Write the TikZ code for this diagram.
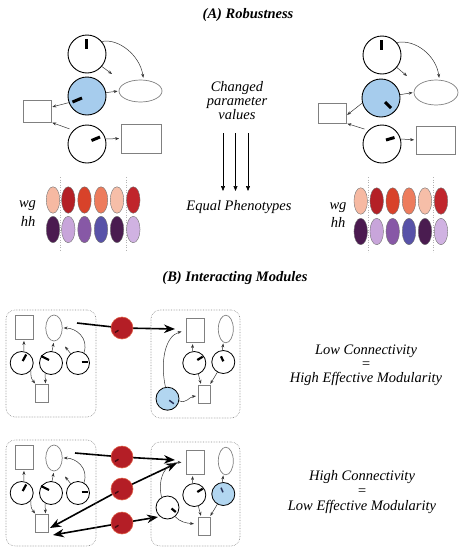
\documentclass[tikz,border=0pt]{standalone}
\usepackage{fontspec}
\setmainfont{Liberation Serif}
\usetikzlibrary{shapes.geometric,arrows.meta,calc,backgrounds}
\definecolor{blueA}{RGB}{166,204,237}
\definecolor{blueB}{RGB}{178,214,240}
\definecolor{navy}{RGB}{40,50,90}
\definecolor{redN}{RGB}{180,30,38}
\definecolor{redR}{RGB}{222,95,70}
\definecolor{redT}{RGB}{70,10,15}
\definecolor{wA}{RGB}{246,185,162}
\definecolor{wB}{RGB}{180,32,38}
\definecolor{wC}{RGB}{216,66,42}
\definecolor{wD}{RGB}{237,124,93}
\definecolor{wE}{RGB}{246,190,168}
\definecolor{wF}{RGB}{192,37,44}
\definecolor{hA}{RGB}{75,26,80}
\definecolor{hB}{RGB}{200,165,218}
\definecolor{hC}{RGB}{135,88,166}
\definecolor{hD}{RGB}{88,82,168}
\definecolor{hE}{RGB}{74,28,80}
\definecolor{hF}{RGB}{208,178,226}
\begin{document}
\begin{tikzpicture}[x=1pt,y=-1pt,
  geneA/.style={circle,draw=black,line width=0.9pt,minimum size=38pt,inner sep=0pt},
  geneB/.style={circle,draw=black,line width=0.8pt,minimum size=23pt,inner sep=0pt},
  prod/.style={rectangle,draw=black!50,line width=0.7pt,inner sep=0pt},
  ellp/.style={ellipse,draw=black!50,line width=0.7pt,inner sep=0pt},
  barA/.style={line width=3pt},
  barB/.style={line width=2.2pt},
  sarr/.style={draw=black!80,line width=0.5pt,-{Stealth[length=4pt,width=3pt]}},
  varr/.style={line width=0.6pt,-{Triangle[length=5pt,width=4pt]}},
  bigarr/.style={line width=1.6pt,-{Stealth[length=11pt,width=8.5pt]}},
  bigline/.style={line width=1.6pt},
  modbox/.style={rectangle,draw=black!45,densely dotted,line width=0.6pt,rounded corners=9pt,inner sep=0pt},
  rednode/.style={circle,fill=redN,draw=redR,line width=0.6pt,minimum size=22pt,inner sep=0pt},
  redtick/.style={line width=1.4pt,draw=redT},
  oval/.style={ellipse,draw=black!55,line width=0.4pt,minimum width=13.5pt,minimum height=26.5pt,inner sep=0pt},
  guide/.style={draw=black!30,dotted,line width=0.5pt},
  lbl/.style={font=\fontsize{14.5}{14}\selectfont\itshape,align=center,inner sep=0pt},
  lblb/.style={font=\fontsize{14.5}{15}\selectfont\itshape,align=center,inner sep=0pt},
  ttl/.style={font=\fontsize{14.5}{16}\selectfont\bfseries\itshape,inner sep=0pt}
]
\useasboundingbox (0,0) rectangle (474,552);

% ---------------- titles
\node[ttl] (tA) at (248,15) {(A) Robustness};
\node[ttl] (tB) at (235,278) {(B) Interacting Modules};

% ---------------- Part A left network
\node[geneA] (La1) at (87,54) {};
\node[geneA,fill=blueA] (La2) at (87,96) {};
\node[geneA] (La3) at (87,144) {};
\node[ellp,minimum width=43pt,minimum height=22pt] (LaE) at (140.5,91) {};
\node[prod,minimum width=28pt,minimum height=22pt] (LaR1) at (37,111) {};
\node[prod,minimum width=40pt,minimum height=29pt] (LaR2) at (141,138.5) {};
\draw[barA] ($(La1)+(-1,-15)$) -- ($(La1)+(-1,-5)$);
\draw[barA] ($(La2)+(-14.5,6)$) -- ($(La2)+(-5,2)$);
\draw[barA] ($(La3)+(4.5,-3.5)$) -- ($(La3)+(13,-7)$);
\coordinate (La1t) at (112,74);
\draw[sarr,shorten >=2pt] (La1.40) .. controls (118,38) and (140,55) .. (LaE.75);
\draw[sarr] (La1.-40) -- (La1t);
\draw[sarr,shorten >=1pt] (La2.10) -- (LaE.west);
\draw[sarr,shorten >=1pt] (La2.200) -- (LaR1.15);
\draw[sarr,shorten <=4pt,shorten >=1pt] (La3.135) -- (LaR1.south east);
\draw[sarr,shorten >=1.5pt] (La3.15) -- (LaR2.west);

% ---------------- Part A right network
\node[geneA] (Ra1) at (382,55) {};
\node[geneA,fill=blueA] (Ra2) at (381,98) {};
\node[geneA] (Ra3) at (382,144) {};
\node[ellp,minimum width=44pt,minimum height=25pt] (RaE) at (436,92.5) {};
\node[prod,minimum width=28pt,minimum height=20pt] (RaR1) at (332,113) {};
\node[prod,minimum width=39pt,minimum height=28pt] (RaR2) at (435.5,140) {};
\draw[barA] ($(Ra1)+(-1,-15)$) -- ($(Ra1)+(-1,-5)$);
\draw[barA] ($(Ra2)+(4,4)$) -- ($(Ra2)+(10,10)$);
\draw[barA] ($(Ra3)+(4,-4)$) -- ($(Ra3)+(12.5,-6.5)$);
\coordinate (Ra1t) at (407,76);
\draw[sarr,shorten >=2pt] (Ra1.40) .. controls (415,39) and (436,55) .. (RaE.75);
\draw[sarr] (Ra1.-40) -- (Ra1t);
\draw[sarr,shorten >=1pt] (Ra2.10) -- (RaE.west);
\draw[sarr,shorten >=1pt] (Ra2.195) -- (RaR1.-10);
\draw[sarr,shorten <=4pt,shorten >=1pt] (Ra3.135) -- (RaR1.south east);
\draw[sarr,shorten >=1.5pt] (Ra3.15) -- (RaR2.west);

% ---------------- middle text and arrows
\node[lbl] (chg) at (237,101) {Changed\\parameter\\values};
\coordinate (v1s) at (223,133); \coordinate (v1e) at (223,191);
\coordinate (v2s) at (235.5,133); \coordinate (v2e) at (235.5,191);
\coordinate (v3s) at (248,133); \coordinate (v3e) at (248,191);
\draw[varr] (v1s) -- (v1e);
\draw[varr] (v2s) -- (v2e);
\draw[varr] (v3s) -- (v3e);
\node[lbl] (eqp) at (239,207) {Equal Phenotypes};

% ---------------- phenotypes
\draw[guide] (60,177) -- (60,250);
\draw[guide] (126,177) -- (126,250);
\draw[guide] (368.5,177) -- (368.5,252);
\draw[guide] (433,177) -- (433,252);
\foreach \x/\c [count=\i] in {53/wA,68.3/wB,84.5/wC,101/wD,117/wE,133.3/wF}
  \node[oval,fill=\c] (Lw\i) at (\x,200) {};
\foreach \x/\c [count=\i] in {53/hA,68.3/hB,84.5/hC,101/hD,117/hE,133.3/hF}
  \node[oval,fill=\c] (Lh\i) at (\x,229.5) {};
\foreach \x/\c [count=\i] in {360.7/wA,376.7/wB,392.7/wC,409/wD,425/wE,441/wF}
  \node[oval,fill=\c] (Rw\i) at (\x,201) {};
\foreach \x/\c [count=\i] in {360.7/hA,376.7/hB,392.7/hC,409/hD,425/hE,441/hF}
  \node[oval,fill=\c] (Rh\i) at (\x,231.5) {};
\node[lbl] (Lwg) at (27.5,206) {wg};
\node[lbl] (Lhh) at (28,221) {hh};
\node[lbl] (Rwg) at (338,208) {wg};
\node[lbl] (Rhh) at (338,222) {hh};

% ---------------- Part B module boxes
\node[modbox,minimum width=90pt,minimum height=107pt] (mTL) at (51,363.5) {};
\node[modbox,minimum width=89pt,minimum height=108pt] (mTR) at (195.5,364) {};
\node[modbox,minimum width=90pt,minimum height=106pt] (mBL) at (51,493) {};
\node[modbox,minimum width=89pt,minimum height=104pt] (mBR) at (195.5,494) {};

% top-left module
\node[prod,minimum width=18pt,minimum height=24pt] (tlR) at (24,327) {};
\node[ellp,minimum width=16.5pt,minimum height=26pt] (tlE) at (54,328) {};
\node[geneB] (tl1) at (21.7,363) {};
\node[geneB] (tl2) at (51,363) {};
\node[geneB] (tl3) at (78,363) {};
\node[prod,minimum width=12.5pt,minimum height=18.5pt] (tlP) at (42,393.5) {};
\draw[barB] ($(tl1)+(1,-2)$) -- ($(tl1)+(4.5,-8.5)$);
\draw[barB] ($(tl2)+(-10,-7)$) -- ($(tl2)+(-2,-3)$);
\draw[barB] ($(tl3)+(3.7,-1.3)$) -- ($(tl3)+(10.3,-1.3)$);
\coordinate (tl3t) at (65,346.5);
\draw[sarr,shorten >=1.5pt] (tl1.80) -- (tlR.south);
\draw[sarr,shorten >=1.5pt] (tl2.85) -- (tlE.south);
\draw[sarr] (tl3.128) -- (tl3t);
\draw[sarr,shorten >=1pt] (tl3.60) .. controls (89,338) and (76,328) .. (tlE.east);
\draw[sarr,shorten >=0.5pt] (tl1.-40) .. controls (31,378) .. (tlP.north west);
\draw[sarr,shorten >=0.5pt] (tl2.-120) -- (tlP.70);

% top-right module
\node[prod,minimum width=18.3pt,minimum height=24.4pt] (trR) at (195,330.5) {};
\node[ellp,minimum width=15pt,minimum height=27.6pt] (trE) at (225.8,329) {};
\node[geneB] (trA) at (194.3,363) {};
\node[geneB] (trB) at (223.3,362) {};
\node[prod,minimum width=12.4pt,minimum height=17.7pt] (trP) at (204.5,394) {};
\node[geneB,fill=blueB] (trC) at (167.5,398.7) {};
\draw[barB] ($(trA)+(3,-3)$) -- ($(trA)+(8.4,-6.3)$);
\draw[barB] ($(trB)+(-2.3,-5.7)$) -- ($(trB)+(0,-0.7)$);
\draw[line width=1.5pt,navy] ($(trC)+(1.8,1.6)$) -- ($(trC)+(6.3,5)$);
\draw[sarr,shorten >=1pt] (trA.100) -- (trR.-100);
\draw[sarr,shorten >=1pt] (trB.95) -- (trE.-100);
\draw[sarr,shorten >=1pt] (trA.-70) -- (trP.110);
\draw[sarr,shorten >=1pt] (trB.-120) -- (trP.60);
\draw[sarr,shorten >=4pt] (trC.100) .. controls (160,362) and (165,336) .. (trR.west);
\draw[sarr,shorten >=2pt] (trC.-10) .. controls (186,404) and (189,397) .. (trP.-165);

% bottom-left module
\node[prod,minimum width=18pt,minimum height=24pt] (blR) at (24,457) {};
\node[ellp,minimum width=16.5pt,minimum height=26pt] (blE) at (54,458) {};
\node[geneB] (bl1) at (21.7,493) {};
\node[geneB] (bl2) at (51,493) {};
\node[geneB] (bl3) at (78,493) {};
\node[prod,minimum width=12.5pt,minimum height=18.5pt] (blP) at (42,523.5) {};
\draw[barB] ($(bl1)+(1,-2)$) -- ($(bl1)+(4.5,-8.5)$);
\draw[barB] ($(bl2)+(-10,-7)$) -- ($(bl2)+(-2,-3)$);
\draw[barB] ($(bl3)+(3.7,-1.3)$) -- ($(bl3)+(10.3,-1.3)$);
\coordinate (bl3t) at (65,476.5);
\draw[sarr,shorten >=1.5pt] (bl1.80) -- (blR.south);
\draw[sarr,shorten >=1.5pt] (bl2.85) -- (blE.south);
\draw[sarr] (bl3.128) -- (bl3t);
\draw[sarr,shorten >=1pt] (bl3.60) .. controls (89,468) and (76,458) .. (blE.east);
\draw[sarr,shorten >=0.5pt] (bl1.-40) .. controls (31,508) .. (blP.north west);
\draw[sarr,shorten >=0.5pt] (bl2.-120) -- (blP.70);

% bottom-right module
\node[prod,minimum width=18.3pt,minimum height=24.4pt] (brR) at (195,462.5) {};
\node[ellp,minimum width=15pt,minimum height=27.6pt] (brE) at (225.8,461) {};
\node[geneB] (brA) at (194.3,495) {};
\node[geneB,fill=blueB] (brB) at (223.3,494) {};
\node[prod,minimum width=12.4pt,minimum height=17.7pt] (brP) at (204.5,526) {};
\node[geneB] (brC) at (167.5,507.5) {};
\draw[barB] ($(brA)+(3,-3)$) -- ($(brA)+(8.4,-6.3)$);
\draw[line width=1.5pt,navy] ($(brB)+(-2.3,-6.3)$) -- ($(brB)+(-0.3,-1.7)$);
\draw[barB] ($(brC)+(4,1)$) -- ($(brC)+(8.3,4.5)$);
\draw[sarr,shorten >=1pt] (brA.100) -- (brR.-100);
\draw[sarr,shorten >=1pt] (brB.95) -- (brE.-100);
\draw[sarr,shorten >=1pt] (brA.-70) -- (brP.110);
\draw[sarr,shorten >=1pt] (brB.-120) -- (brP.60);
\draw[sarr,shorten >=4pt] (brC.120) .. controls (157,478) and (166,462) .. (brR.west);
\draw[sarr,shorten >=4pt] (brC.-50) .. controls (180,522) and (186,523) .. (brP.165);

% ---------------- red connector nodes
\node[rednode] (rd0) at (122,328) {};
\node[rednode] (rd1) at (122,457) {};
\node[rednode] (rd2) at (122,489) {};
\node[rednode] (rd3) at (122,523) {};
\foreach \r in {rd0,rd1,rd2,rd3}
  \draw[redtick] ($(\r)+(-7,4.5)$) -- ($(\r)+(-3.5,2.3)$);

\coordinate (s0) at (77,323);
\coordinate (t0) at (175,329);
\coordinate (s1) at (75,453);
\coordinate (t1) at (175,460);
\coordinate (a2l) at (50,528);
\coordinate (a2r) at (177,463);
\coordinate (a3l) at (53,535);
\coordinate (a3r) at (158,517);
\begin{scope}[on background layer]
  \draw[bigline] (s0) -- (rd0.center);
  \draw[bigarr] (rd0.center) -- (t0);
  \draw[bigline] (s1) -- (rd1.center);
  \draw[bigarr] (rd1.center) -- (t1);
  \draw[bigarr] (rd2.center) -- (a2l);
  \draw[bigarr] (rd2.center) -- (a2r);
  \draw[bigarr] (rd3.center) -- (a3l);
  \draw[bigarr] (rd3.center) -- (a3r);
\end{scope}

% ---------------- right texts
\node[lbl] (txt1) at (366,365) {Low Connectivity\\=\\High Effective Modularity};
\node[lblb] (txt2) at (362,492) {High Connectivity\\=\\Low Effective Modularity};
\end{tikzpicture}
\end{document}
